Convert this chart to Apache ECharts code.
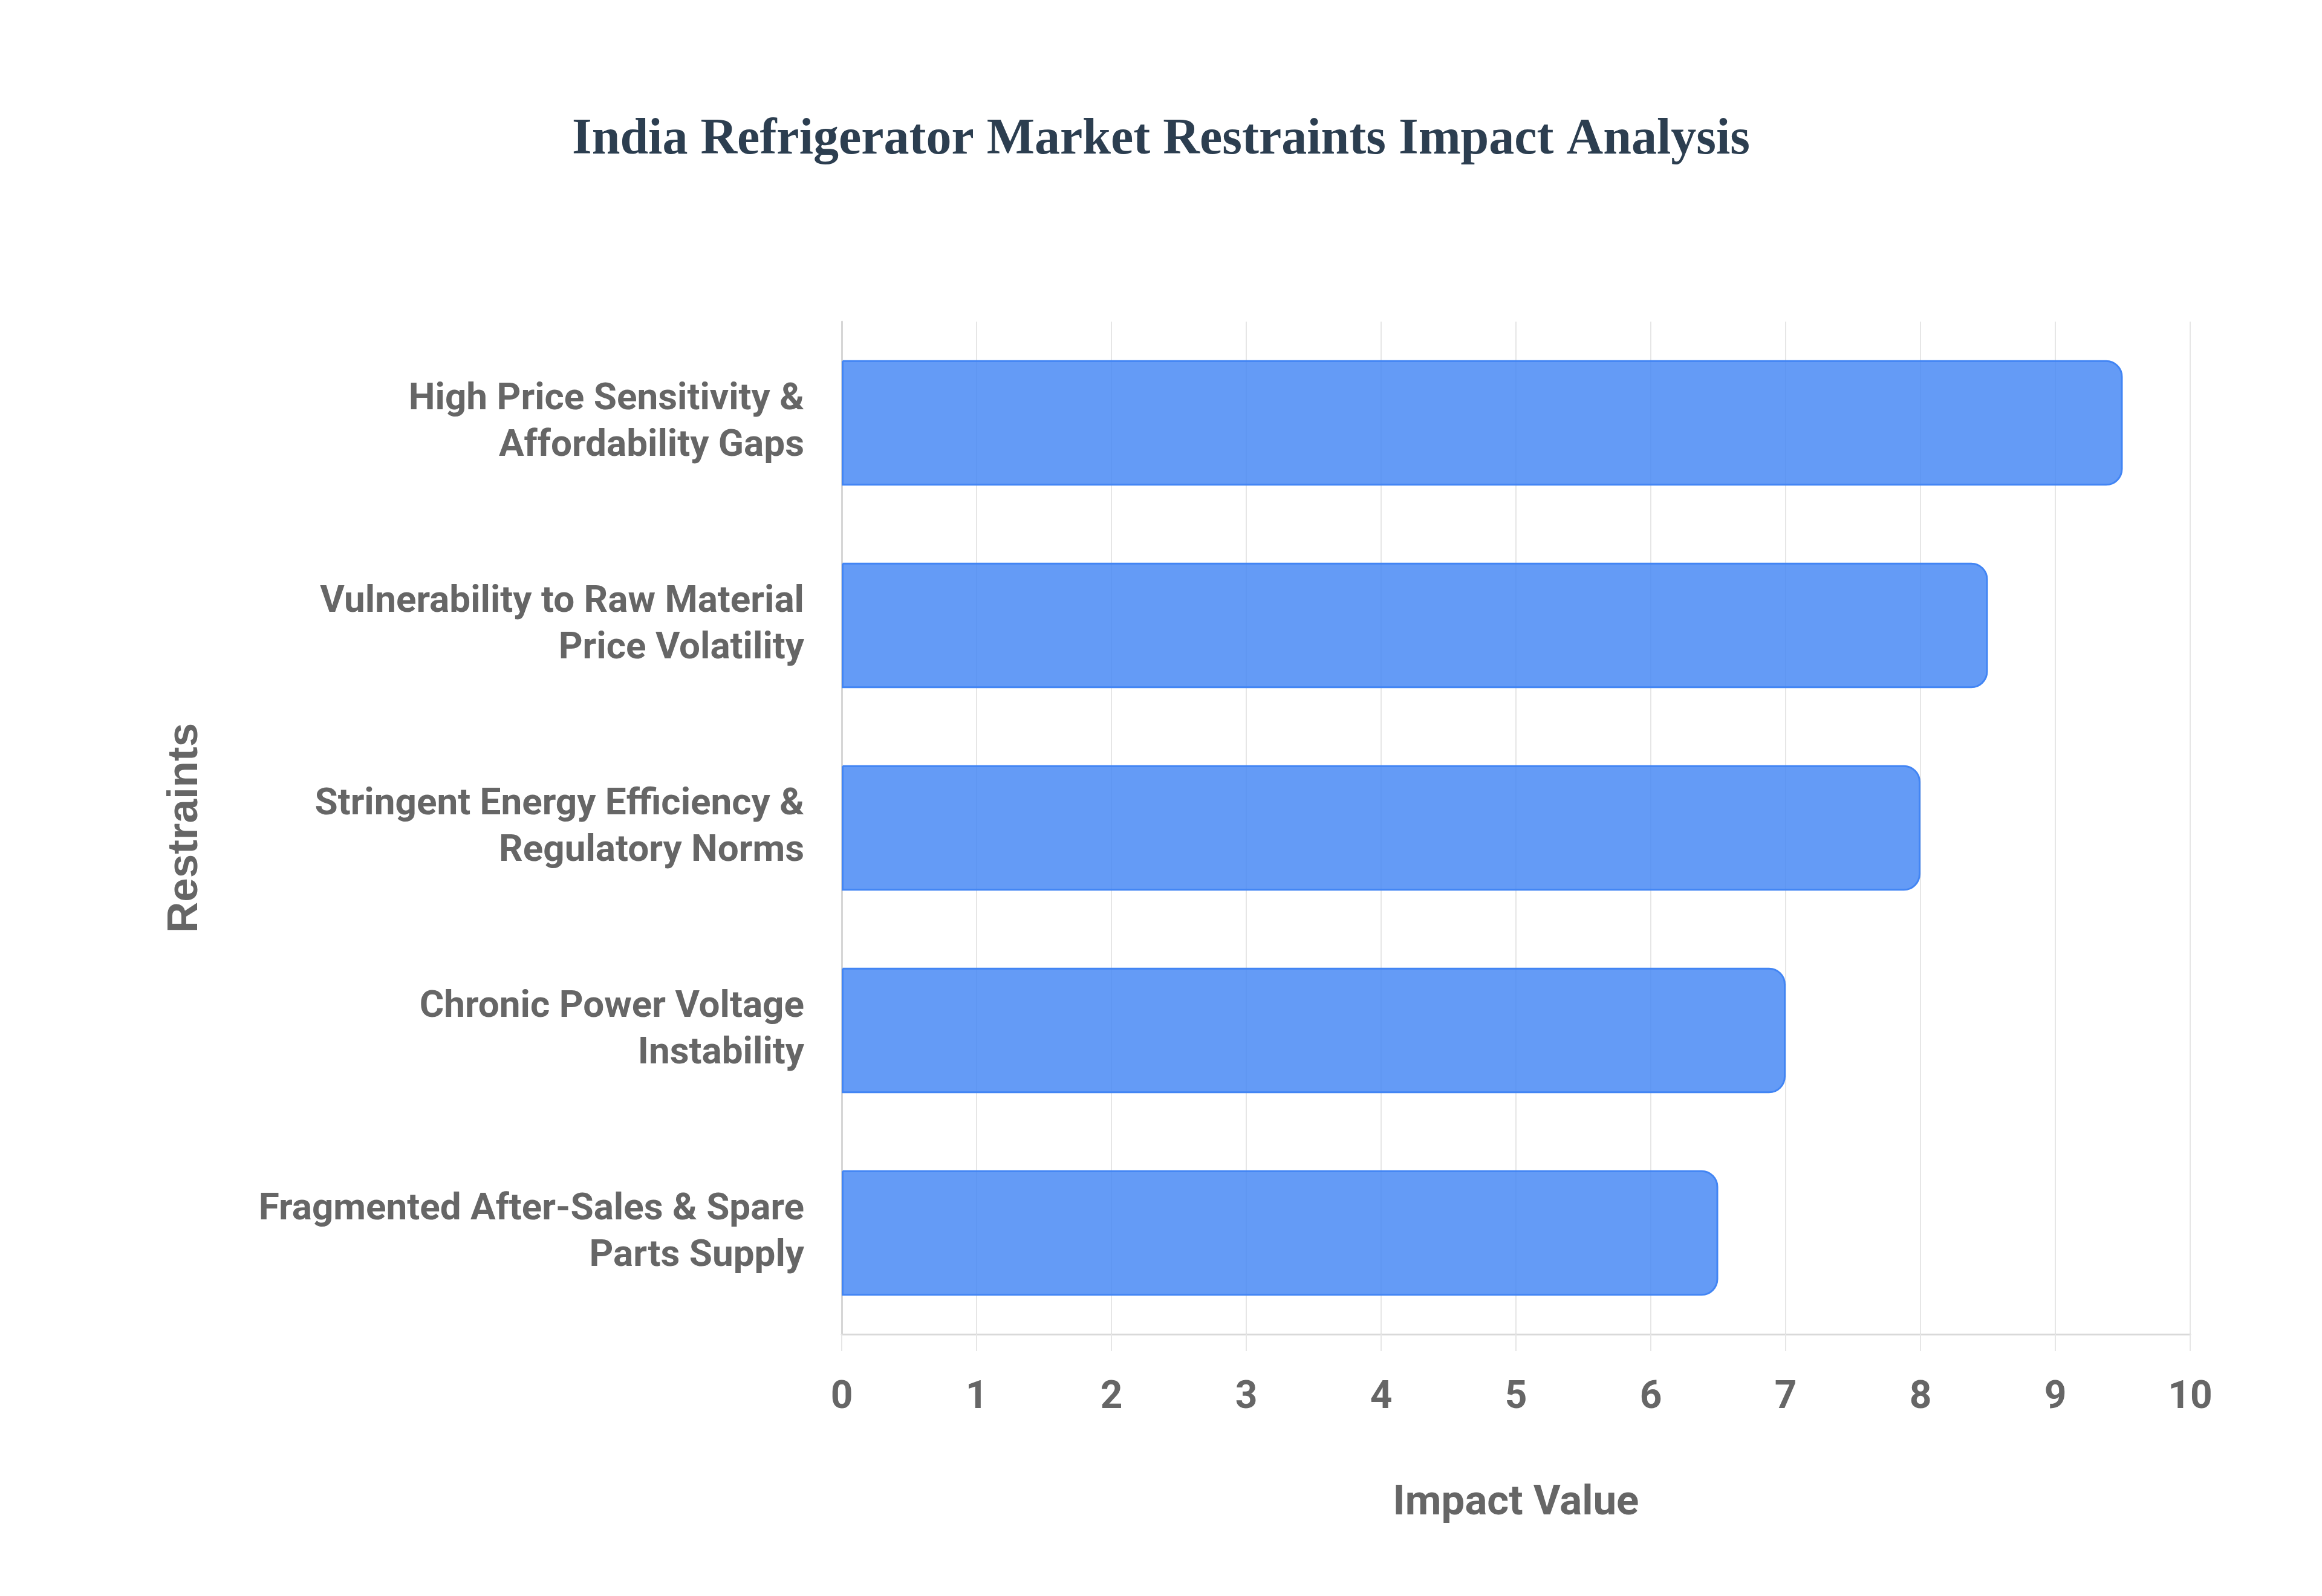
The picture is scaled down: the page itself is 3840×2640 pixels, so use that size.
<!DOCTYPE html>
<html>
<head>
<meta charset="utf-8">
<script src="https://cdn.jsdelivr.net/npm/echarts@6/dist/echarts.min.js"></script>
<style>
html,body{margin:0;padding:0;background:#fff;}
#chart{width:3840px;height:2640px;}
</style>
</head>
<body>
<div id="chart"></div>
<script>
const titleText = 'India Refrigerator Market Restraints Impact Analysis';
const categories = [
  'High Price Sensitivity &\nAffordability Gaps',
  'Vulnerability to Raw Material\nPrice Volatility',
  'Stringent Energy Efficiency &\nRegulatory Norms',
  'Chronic Power Voltage\nInstability',
  'Fragmented After-Sales & Spare\nParts Supply'
];
const impactValues = [9.5, 8.5, 8.0, 7.0, 6.5];
const xAxisName = 'Impact Value';
const yAxisName = 'Restraints';

const sans = 'Roboto, "Liberation Sans", Arial, sans-serif';
const chart = echarts.init(document.getElementById('chart'), null, {renderer: 'canvas'});
chart.setOption({
  animation: false,
  backgroundColor: '#ffffff',
  title: {
    text: titleText,
    left: 'center',
    top: 185,
    textStyle: {
      fontFamily: '"Liberation Serif", "Times New Roman", serif',
      fontWeight: 'bold',
      fontSize: 84,
      color: '#2c3e50'
    }
  },
  grid: {left: 1392, right: 218, top: 532, bottom: 433, containLabel: false},
  xAxis: {
    type: 'value',
    min: 0,
    max: 10,
    interval: 1,
    name: xAxisName,
    nameLocation: 'middle',
    nameGap: 246,
    nameTextStyle: {fontFamily: sans, fontWeight: 'bold', fontSize: 69, color: '#666666'},
    axisLine: {show: true, lineStyle: {color: '#d9d9d9', width: 3}},
    axisTick: {show: true, length: 28, lineStyle: {color: '#e6e6e6', width: 2}},
    axisLabel: {margin: 74, fontFamily: sans, fontWeight: 'bold', fontSize: 64, color: '#666666'},
    splitLine: {show: true, lineStyle: {color: '#e6e6e6', width: 2}}
  },
  yAxis: {
    type: 'category',
    data: categories,
    inverse: true,
    name: yAxisName,
    nameLocation: 'middle',
    nameGap: 1050,
    nameRotate: 90,
    nameTextStyle: {fontFamily: '"Liberation Sans", Arial, sans-serif', fontWeight: 'bold', fontSize: 71, color: '#666666'},
    axisLine: {show: true, lineStyle: {color: '#d6d6d6', width: 3}},
    axisTick: {show: false},
    axisLabel: {margin: 62, fontFamily: sans, fontWeight: 'bold', fontSize: 62, lineHeight: 77, color: '#666666', align: 'right'},
    splitLine: {show: false}
  },
  series: [{
    type: 'bar',
    data: impactValues,
    barWidth: '62%',
    itemStyle: {
      color: 'rgba(66,133,244,0.82)',
      borderColor: '#4285f4',
      borderWidth: 3,
      borderRadius: [0, 26, 26, 0]
    }
  }]
});
</script>
</body>
</html>
